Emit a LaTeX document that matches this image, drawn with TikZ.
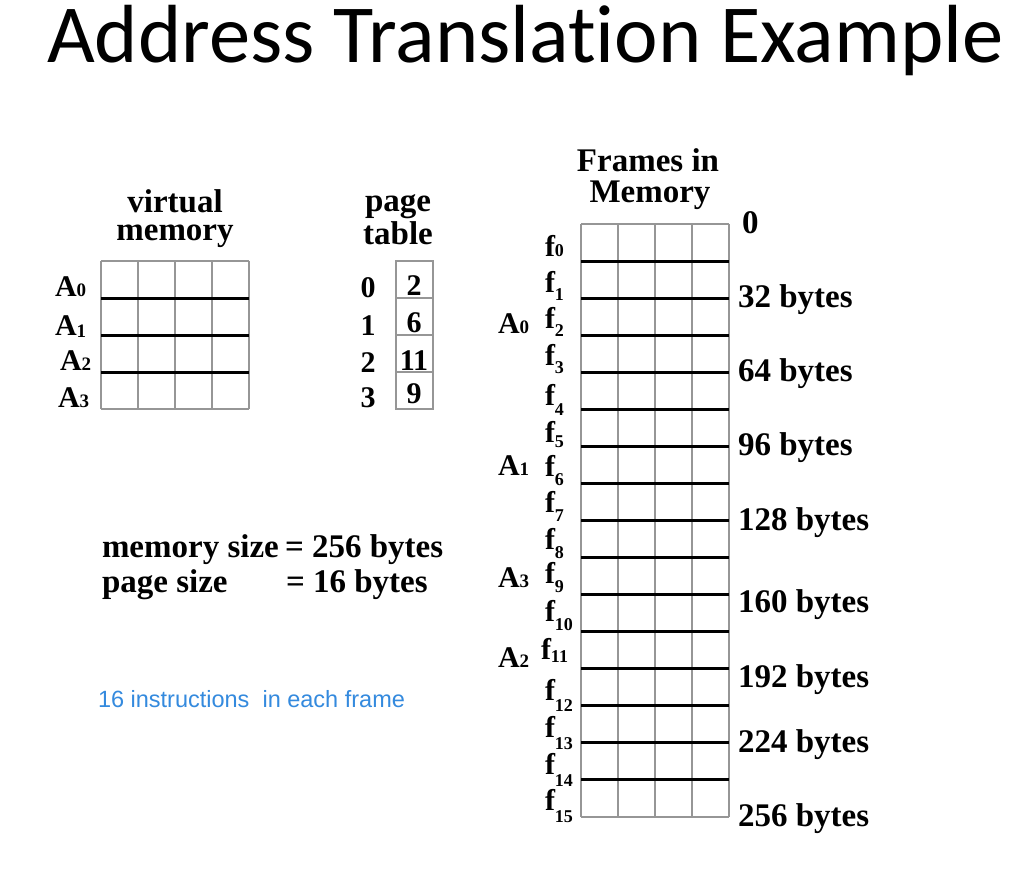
\documentclass[tikz,border=0pt]{standalone}
\usepackage{fontspec}
\setmainfont{Liberation Serif}
\newfontfamily\titlefont[Ligatures=NoCommon]{Carlito}
\newfontfamily\bluefont{Liberation Sans}
\definecolor{gridgray}{RGB}{150,150,150}
\definecolor{noteblue}{RGB}{52,138,222}
\newcommand\bigbf{\fontsize{33}{38}\selectfont\bfseries}
\newcommand\midbf{\fontsize{30}{34}\selectfont\bfseries}
\newcommand\subbf{\fontsize{18}{20}\selectfont\bfseries}
\begin{document}
\begin{tikzpicture}[x=1pt,y=-1pt,
  lbl/.style={inner sep=0pt,outer sep=0pt},
  thinline/.style={draw=gridgray,line width=1.5pt},
  thickline/.style={draw=black,line width=3pt},
  bytelbl/.style={lbl,anchor=base west,font=\bigbf}]
\useasboundingbox[fill=white] (0,0) rectangle (1024,890);

% title
\node[lbl,anchor=base west,font=\titlefont\fontsize{82.5}{90}\selectfont] (title) at (47,63) {Address Translation Example};

% virtual memory
\node[lbl,anchor=base,font=\bigbf] (vm1) at (175,213) {virtual};
\node[lbl,anchor=base,font=\bigbf] (vm2) at (175,241) {memory};
\foreach \x in {101,138,175,212,249} \draw[thinline] (\x,261) -- (\x,409);
\draw[thinline] (101,261) -- (249,261);
\draw[thinline] (101,409) -- (249,409);
\foreach \i in {1,2,3} \draw[thickline] (101,{261+37*\i}) -- (249,{261+37*\i});
\foreach \i/\x/\yb/\dr in {0/55/297/0,1/55/335/2,2/60/370/0,3/58/407/0}
  \node[lbl,anchor=base west] (va\i) at (\x,\yb) {\midbf A\raisebox{-\dr pt}{\fontsize{19}{20}\selectfont\bfseries\i}};

% page table
\node[lbl,anchor=base,font=\bigbf] (pt1) at (398,212) {page};
\node[lbl,anchor=base,font=\bigbf] (pt2) at (398,245) {table};
\draw[thinline] (396,261) rectangle (433,409);
\foreach \i in {1,2,3} \draw[thinline] (396,{261+37*\i}) -- (433,{261+37*\i});
\foreach \i/\yb in {0/298,1/335,2/372,3/407}
  \node[lbl,anchor=base,font=\midbf] (pi\i) at (368,\yb) {\i};
\foreach \i/\v/\yb in {0/2/295,1/6/332,2/11/370,3/9/403}
  \node[lbl,anchor=base,font=\midbf] (pv\i) at (414,\yb) {\v};

% memory sizes
\node[lbl,anchor=base west,font=\bigbf] (ms1) at (102,557) {memory size};
\node[lbl,anchor=base west,font=\bigbf] (ms2) at (285,557) {= 256 bytes};
\node[lbl,anchor=base west,font=\bigbf] (ps1) at (102,592) {page size};
\node[lbl,anchor=base west,font=\bigbf] (ps2) at (286,592) {= 16 bytes};

% blue note
\node[lbl,anchor=base west,font=\bluefont\fontsize{23.5}{26}\selectfont,text=noteblue] (note) at (98,707) {16 instructions\ \ in each frame};

% frames in memory
\node[lbl,anchor=base,font=\bigbf] (fm1) at (648,172) {Frames in};
\node[lbl,anchor=base,font=\bigbf] (fm2) at (650,203) {Memory};
\foreach \x in {581,618,655,692,729} \draw[thinline] (\x,224) -- (\x,817);
\draw[thinline] (581,224) -- (729,224);
\draw[thinline] (581,817) -- (729,817);
\foreach \i in {1,...,15} \draw[thickline] (581,{224+37.0625*\i}) -- (729,{224+37.0625*\i});

\foreach \i/\x/\yb/\dr in {0/545/257/0,1/545/292/9,2/545/328/8,3/545/365/8,4/545/405/10,
  5/545/442/5,6/545/476/9,7/545/512/9,8/545/549/9,9/545/583/9,10/545/621/9,
  11/541/659/3,12/545/700/11,13/545/737/12,14/545/774/12,15/545/810/12}
  \node[lbl,anchor=base west] (f\i) at (\x,\yb) {\midbf f\raisebox{-\dr pt}{\subbf\i}};

\foreach \n/\s/\yb in {a0/0/333,a1/1/475,a3/3/587,a2/2/667}
  \node[lbl,anchor=base west] (m\n) at (498,\yb) {\midbf A\raisebox{0pt}{\fontsize{19}{20}\selectfont\bfseries\s}};

\node[bytelbl] (b0) at (742,234) {0};
\foreach \t/\yb in {32/308,64/381,96/455,128/530,160/612,192/687,224/752,256/826}
  \node[bytelbl] (b\t) at (738,\yb) {\t\ bytes};
\end{tikzpicture}
\end{document}
